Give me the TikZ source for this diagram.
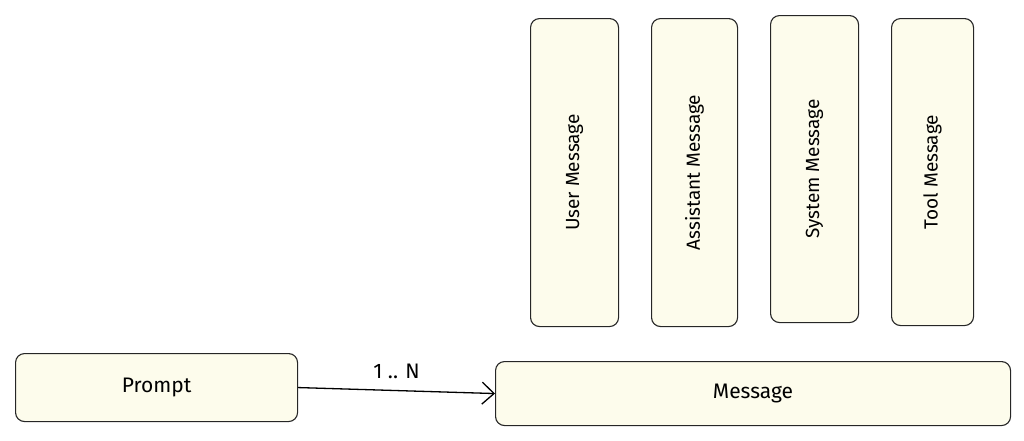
\documentclass[tikz,border=0pt]{standalone}
\usepackage{fontspec}
\setmainfont{Fira Sans}
\usetikzlibrary{arrows.meta,patterns}
\begin{document}
\begin{tikzpicture}[x=1pt,y=-1pt,
  card/.style={draw=black!85,line width=1.1pt,rounded corners=9pt,fill={rgb,255:red,253;green,252;blue,236}},
  lbl/.style={font=\fontsize{21}{24}\selectfont},
  vlbl/.style={font=\fontsize{19}{22}\selectfont,rotate=90}]
\useasboundingbox (0,0) rectangle (1024,440);
\node[card,minimum width=282pt,minimum height=68pt,anchor=north west,inner sep=0pt] (prompt) at (15,353) {};
\node[lbl] at (prompt.center) {Prompt};
\node[card,minimum width=515pt,minimum height=64pt,anchor=north west,inner sep=0pt] (msg) at (495,361) {};
\node[lbl] at (msg.center) {Message};
\node[card,minimum width=88pt,minimum height=308pt,anchor=north west,inner sep=0pt] (user) at (530,18) {};
\node[vlbl] at (user.center) {User Message};
\node[card,minimum width=86pt,minimum height=308pt,anchor=north west,inner sep=0pt] (asst) at (651,18) {};
\node[vlbl] at (asst.center) {Assistant Message};
\node[card,minimum width=88pt,minimum height=307pt,anchor=north west,inner sep=0pt] (sys) at (770,15) {};
\node[vlbl] at (sys.center) {System Message};
\node[card,minimum width=82pt,minimum height=307pt,anchor=north west,inner sep=0pt] (tool) at (891,18) {};
\node[vlbl] at (tool.center) {Tool Message};
\draw[line width=1.3pt,-{Straight Barb[length=12pt,width=22pt]}] (prompt.east) -- (msg.west) node[midway,above=8pt,lbl]{1 .. N};
\end{tikzpicture}
\end{document}
